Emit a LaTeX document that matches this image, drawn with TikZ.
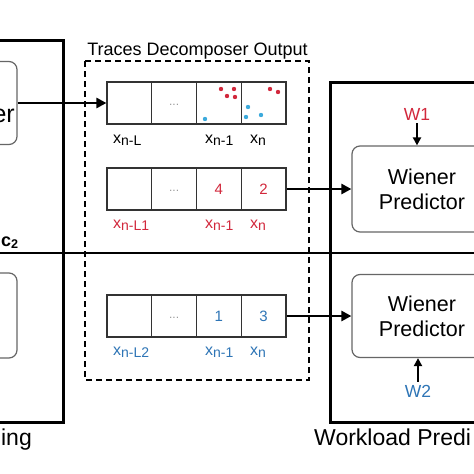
\documentclass[tikz,border=0pt]{standalone}
\usepackage{fontspec}
\setmainfont{Liberation Sans}
\usetikzlibrary{arrows.meta}

\definecolor{wred}{RGB}{210,40,60}
\definecolor{wblue}{RGB}{46,117,182}
\definecolor{wdot}{RGB}{60,170,220}

% x with a lowered index, as in the cell labels
\newcommand{\xs}[1]{x\raisebox{-2pt}{\fontsize{14}{14}\selectfont #1}}

\tikzset{
  frame/.style={line width=3pt},
  decbox/.style={line width=1.5pt,dash pattern=on 6pt off 4pt},
  cell/.style={draw=black!80,line width=1.2pt,minimum width=44.75pt,minimum height=42pt,
    inner sep=0pt,font=\fontsize{15}{15}\selectfont},
  rbox/.style={draw=black!60,line width=1.2pt,rounded corners=8pt,align=center,
    font=\fontsize{21.5}{25}\selectfont},
  lbl/.style={anchor=base west,inner sep=0pt,font=\fontsize{16}{16}\selectfont},
  arr/.style={-{Triangle[length=10pt,width=10pt]},line width=2.5pt},
  warr/.style={-{Triangle[length=8pt,width=8pt]},line width=2pt},
}

\begin{document}
\begin{tikzpicture}[x=1pt,y=-1pt]

  % white background, fixes the size of the page
  \useasboundingbox [fill=white] (0,0) rectangle (474,474);

  % the two thick frames and the line across
  \draw [frame] (-10,40) -- (63,40) -- (63,422) -- (-10,422);
  \draw [frame] (490,82) -- (330,82) -- (330,422) -- (490,422);
  \draw [line width=2pt] (-10,253) -- (490,253);

  % boxes on the left, cut by the page
  \node [rbox,minimum width=80pt,minimum height=83pt] (src1) at (-23,103) {};
  \node [rbox,minimum width=80pt,minimum height=85pt] (src2) at (-23,315.5) {};
  \node [anchor=base east,inner sep=0pt,font=\fontsize{25}{25}\selectfont] (srctext) at (15,122) {er};
  \node [anchor=base west,inner sep=0pt,font=\fontsize{18}{18}\selectfont\bfseries] (ctext) at (1,246) {c\textsubscript{2}};
  \node [anchor=base east,inner sep=0pt,font=\fontsize{23}{23}\selectfont] (ingtext) at (32,445) {ing};

  % decomposer output
  \draw [decbox] (85,61) rectangle (309,380);
  \node [anchor=base,inner sep=0pt,font=\fontsize{18}{18}\selectfont] (dectitle) at (197.5,55) {Traces Decomposer Output};

  \foreach \row/\ypos/\tint/\prev/\last in {1/103/black/{}/{}, 2/189/wred/4/2, 3/316/wblue/1/3} {
    \node [cell] (c\row1) at (129.4,\ypos) {};
    \node [cell,text=black!40,font=\fontsize{12}{12}\selectfont] (c\row2) at (174.1,\ypos) {\raisebox{-4pt}{...}};
    \node [cell,text=\tint] (c\row3) at (218.9,\ypos) {\prev};
    \node [cell,text=\tint] (c\row4) at (263.6,\ypos) {\last};
  }

  % labels under the cells
  \foreach \row/\yb/\first/\tint in {1/143/n-L/black, 2/228/n-L1/wred, 3/355/n-L2/wblue} {
    \node [lbl,text=\tint] (l\row1) at (113,\yb) {\xs{\first}};
    \node [lbl,text=\tint] (l\row3) at (205,\yb) {\xs{n-1}};
    \node [lbl,text=\tint] (l\row4) at (250,\yb) {\xs{n}};
  }

  % points in the first row
  \foreach \p in {(221,89),(234,89),(227,96),(235,97),(270,89),(278,92)}
    \fill [wred] \p circle (2.2pt);
  \foreach \p in {(205,119),(248,107),(246,117),(261,115)}
    \fill [wdot] \p circle (2.2pt);

  % workload prediction
  \node [rbox,minimum width=140pt,minimum height=86pt] (wp1) at (422,189) {Wiener\\Predictor};
  \node [rbox,minimum width=140pt,minimum height=83pt] (wp2) at (422,316) {Wiener\\Predictor};
  \node [anchor=base,inner sep=0pt,text=wred,font=\fontsize{17.5}{17.5}\selectfont] (w1) at (417,120) {W1};
  \node [anchor=base,inner sep=0pt,text=wblue,font=\fontsize{17.5}{17.5}\selectfont] (w2) at (418,397) {W2};
  \node [anchor=base west,inner sep=0pt,font=\fontsize{23}{23}\selectfont] (wltext) at (314,445) {Workload Predi};

  % arrows
  \draw [arr] (src1.east) -- (c11.west);
  \draw [arr] (c24.east) -- (wp1.west);
  \draw [arr] (c34.east) -- (wp2.west);
  \draw [warr] ([yshift=-3pt]w1.south) -- (w1.south |- wp1.north);
  \draw [warr] ([yshift=3pt]w2.north) -- (w2.north |- wp2.south);

\end{tikzpicture}
\end{document}
